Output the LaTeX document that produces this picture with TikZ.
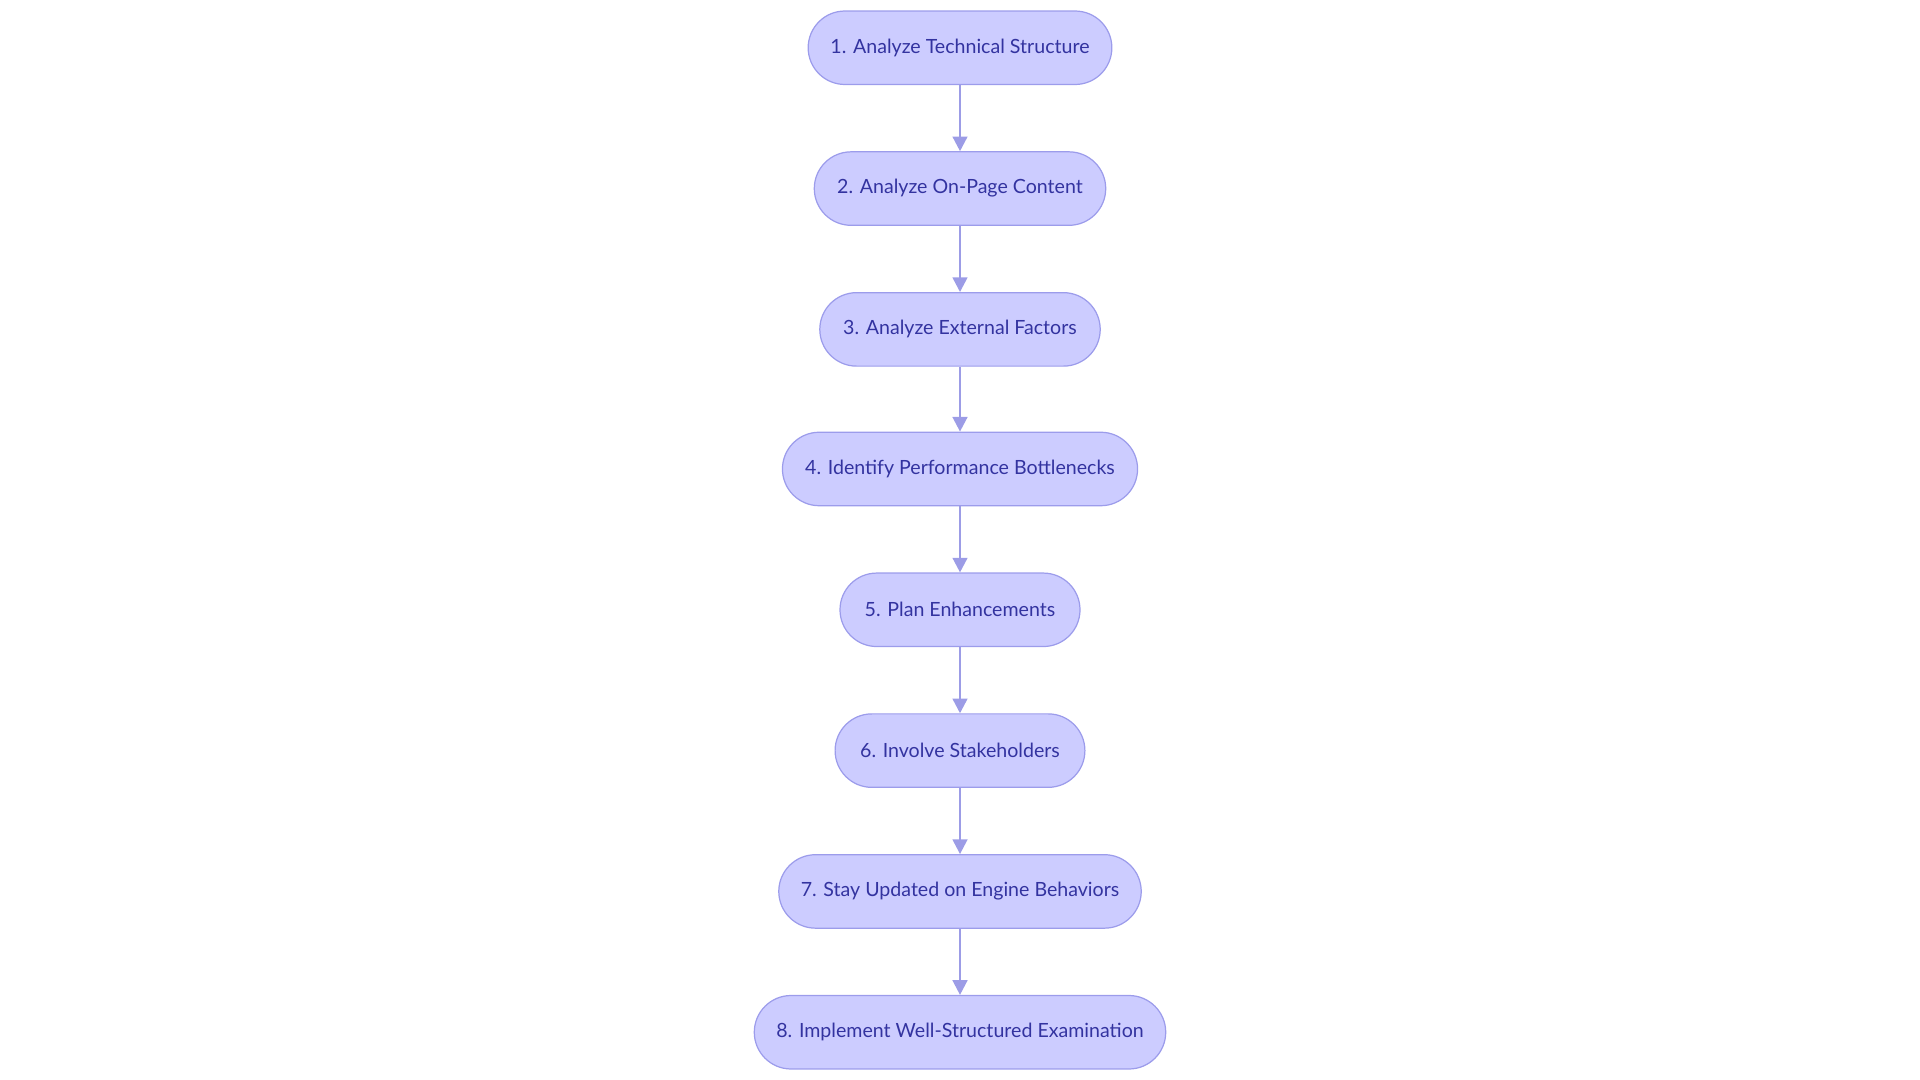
\documentclass[tikz,border=0pt]{standalone}
\usepackage{fontspec}
\setmainfont{Lato}
\usetikzlibrary{arrows.meta}
\definecolor{nfill}{HTML}{CCCCFF}
\definecolor{nline}{HTML}{9C9CEB}
\definecolor{ntext}{HTML}{3333A0}
\definecolor{aline}{HTML}{9C9CE6}
\tikzset{
  stepbox/.style={draw=nline, line width=0.5pt, fill=nfill, rounded corners=15pt, minimum height=30pt, text=ntext, font=\fontsize{8}{10}\selectfont, inner sep=0pt},
  conn/.style={draw=aline, line width=1pt, -{Triangle[length=6pt,width=6pt]}}
}
\begin{document}
\begin{tikzpicture}[x=0.5pt,y=-0.5pt]
\useasboundingbox (0,0) rectangle (1568,882);
\node[stepbox, minimum width=124pt] (n1) at (784,39) {1. Analyze Technical Structure};
\node[stepbox, minimum width=119pt] (n2) at (784,154) {2. Analyze On-Page Content};
\node[stepbox, minimum width=114.5pt] (n3) at (784,269) {3. Analyze External Factors};
\node[stepbox, minimum width=145pt] (n4) at (784,383) {4. Identify Performance Bottlenecks};
\node[stepbox, minimum width=98pt] (n5) at (784,498) {5. Plan Enhancements};
\node[stepbox, minimum width=102pt] (n6) at (784,613) {6. Involve Stakeholders};
\node[stepbox, minimum width=148pt] (n7) at (784,728) {7. Stay Updated on Engine Behaviors};
\node[stepbox, minimum width=168pt] (n8) at (784,843) {8. Implement Well-Structured Examination};
\foreach \a/\b in {n1/n2,n2/n3,n3/n4,n4/n5,n5/n6,n6/n7,n7/n8}
  \draw[conn] (\a) -- (\b);
\end{tikzpicture}
\end{document}
